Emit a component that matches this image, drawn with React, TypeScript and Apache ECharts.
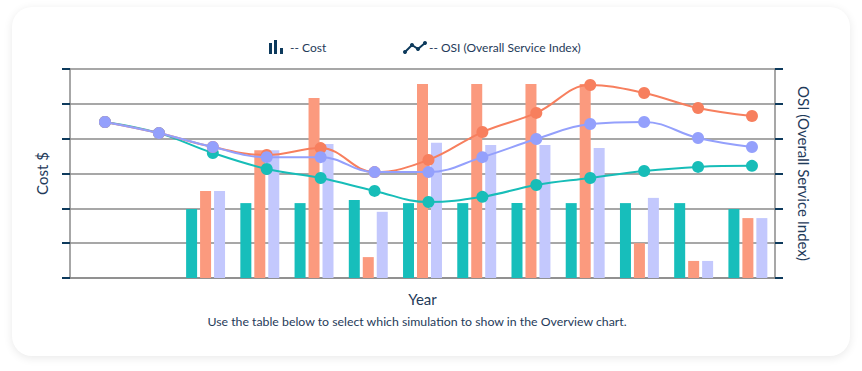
import React, { useEffect, useRef } from "react";
import * as echarts from "echarts";

const years = ["2021", "2022", "2023", "2024", "2025", "2026", "2027", "2028", "2029", "2030", "2031", "2032", "2033"];

// Cost bars (left axis)
const costTeal = [null, null, 198, 215, 215, 224, 215, 215, 215, 215, 215, 215, 198];
const costSalmon = [null, null, 250, 367, 517, 60, 557, 557, 557, 557, 100, 49, 172];
const costLavender = [null, null, 250, 367, 385, 190, 388, 382, 382, 373, 230, 49, 172];

// OSI lines (right axis)
const osiOrange = [44.8, 41.6, 37.6, 35.3, 37.3, 30.4, 33.9, 41.9, 47.4, 55.4, 53.1, 48.8, 46.5];
const osiLavender = [44.8, 41.6, 37.6, 34.7, 34.7, 30.4, 30.4, 34.7, 39.9, 44.2, 44.8, 40.2, 37.6];
const osiTeal = [44.8, 41.6, 35.9, 31.3, 28.7, 25.0, 21.8, 23.3, 26.7, 28.7, 30.7, 31.9, 32.2];

const legendCost = "-- Cost";
const legendOsi = "-- OSI (Overall Service Index)";
const leftAxisName = "Cost $";
const rightAxisName = "OSI (Overall Service Index)";
const xAxisName = "Year";
const caption = "Use the table below to select which simulation to show in the Overview chart.";

const NAVY = "#0d3a5c";
const TEXT = "#1f3b5a";
const GRIDC = "#8a8a8a";
const FONT = "Lato, 'Noto Sans', sans-serif";

export default function App() {
  const ref = useRef<HTMLDivElement>(null);
  useEffect(() => {
    const chart = echarts.init(ref.current!, null, { renderer: "svg" });
    const toPairs = (arr: number[]) => arr.map((v, i) => [i, v]);
    const lineSeries = (name: string, data: number[], color: string, z: number) => ({
      name,
      type: "line",
      xAxisIndex: 1,
      yAxisIndex: 1,
      data: toPairs(data),
      smooth: 0.4,
      symbol: "circle",
      symbolSize: 12,
      itemStyle: { color },
      lineStyle: { color, width: 2 },
      z,
    });
    const barSeries = (name: string, data: (number | null)[], color: string) => ({
      name,
      type: "bar",
      data,
      barWidth: 11,
      barGap: "27%",
      itemStyle: { color },
    });
    chart.setOption({
      animation: false,
      textStyle: { fontFamily: FONT },
      grid: { left: 70, right: 87, top: 69, bottom: 93 },
      xAxis: [
        {
          type: "category",
          data: years,
          boundaryGap: true,
          axisLine: { lineStyle: { color: GRIDC, width: 1.5 } },
          axisTick: { alignWithLabel: true, length: 7, lineStyle: { color: NAVY, width: 2 } },
          axisLabel: { show: false },
          name: xAxisName,
          nameLocation: "middle",
          nameGap: 13,
          nameTextStyle: { color: TEXT, fontSize: 15, fontFamily: FONT },
        },
        {
          type: "value",
          min: -0.649,
          max: 12.427,
          show: false,
        },
      ],
      yAxis: [
        {
          type: "value",
          min: 0,
          max: 600,
          interval: 100,
          position: "left",
          axisLine: { show: true, onZero: false, lineStyle: { color: GRIDC, width: 1.5 } },
          axisTick: { show: true, length: 8, lineStyle: { color: NAVY, width: 2 } },
          axisLabel: { show: false },
          splitLine: { lineStyle: { color: GRIDC, width: 1.5 } },
          name: leftAxisName,
          nameLocation: "middle",
          nameGap: 21,
          nameTextStyle: { color: TEXT, fontSize: 15, fontFamily: FONT },
        },
        {
          type: "value",
          min: 0,
          max: 60,
          interval: 10,
          position: "right",
          axisLine: { show: true, onZero: false, lineStyle: { color: GRIDC, width: 1.5 } },
          axisTick: { show: true, length: 8, lineStyle: { color: NAVY, width: 2 } },
          axisLabel: { show: false },
          splitLine: { show: false },
          name: rightAxisName,
          nameLocation: "middle",
          nameGap: 21,
          nameRotate: -90,
          nameTextStyle: { color: TEXT, fontSize: 15, fontFamily: FONT },
        },
      ],
      series: [
        barSeries("teal", costTeal, "#17bebb"),
        barSeries("salmon", costSalmon, "#fb9a7e"),
        barSeries("lavender", costLavender, "#c3c8fd"),
        lineSeries("osiTeal", osiTeal, "#17bdb8", 5),
        lineSeries("osiOrange", osiOrange, "#f77f5e", 6),
        lineSeries("osiLavender", osiLavender, "#94a0fc", 7),
      ],
      graphic: [
        { type: "rect", shape: { x: 269, y: 43, width: 3, height: 11 }, style: { fill: NAVY } },
        { type: "rect", shape: { x: 274, y: 40, width: 3, height: 14 }, style: { fill: NAVY } },
        { type: "rect", shape: { x: 280, y: 48, width: 3, height: 6 }, style: { fill: NAVY } },
        {
          type: "text",
          x: 290,
          y: 47,
          style: { text: legendCost, fill: TEXT, fontSize: 12, fontFamily: FONT, verticalAlign: "middle" },
        },
        {
          type: "polyline",
          shape: { points: [[405, 52], [412, 45], [418, 49], [425, 43]] },
          style: { stroke: NAVY, lineWidth: 2, fill: "none" },
        },
        { type: "circle", shape: { cx: 405, cy: 52, r: 2 }, style: { fill: NAVY } },
        { type: "circle", shape: { cx: 412, cy: 45, r: 2 }, style: { fill: NAVY } },
        { type: "circle", shape: { cx: 418, cy: 49, r: 2 }, style: { fill: NAVY } },
        { type: "circle", shape: { cx: 425, cy: 43, r: 2 }, style: { fill: NAVY } },
        {
          type: "text",
          x: 429,
          y: 47,
          style: { text: legendOsi, fill: TEXT, fontSize: 12, fontFamily: FONT, verticalAlign: "middle" },
        },
        {
          type: "text",
          x: 417,
          y: 321,
          style: { text: caption, fill: TEXT, fontSize: 12.3, fontFamily: FONT, align: "center", verticalAlign: "middle" },
        },
      ],
    });
    return () => chart.dispose();
  }, []);

  return (
    <div style={{ position: "fixed", left: 0, top: 0, width: 862, height: 371, background: "#ffffff", overflow: "hidden" }}>
      <div
        style={{
          position: "absolute",
          left: 12,
          top: 7,
          width: 838,
          height: 349,
          borderRadius: 20,
          background: "#ffffff",
          boxShadow: "0 2px 10px rgba(0,0,0,0.09)",
        }}
      />
      <div ref={ref} style={{ position: "absolute", left: 0, top: 0, width: 862, height: 371 }} />
    </div>
  );
}
